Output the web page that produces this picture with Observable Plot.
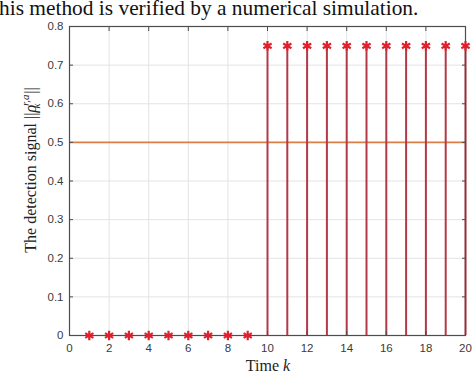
<!DOCTYPE html>
<html>
<head>
<meta charset="utf-8">
<script src="https://cdn.jsdelivr.net/npm/d3@7"></script>
<script src="https://cdn.jsdelivr.net/npm/@observablehq/plot@0.6"></script>
<style>
  html, body { margin: 0; padding: 0; background: #fff; }
  #wrap { position: relative; width: 474px; height: 375px; overflow: hidden; }
  #caption { position: absolute; left: -1px; top: -4px; font-family: "Liberation Serif", "Times New Roman", serif; font-size: 21.4px; line-height: 24px; color: #111; white-space: nowrap; z-index: 2; }
  #chart { position: absolute; left: 0; top: 0; }
</style>
</head>
<body>
<div id="wrap">
  <div id="caption">his method is verified by a numerical simulation.</div>
  <div id="chart"></div>
</div>
<script>
const timeSteps = [1,2,3,4,5,6,7,8,9,10,11,12,13,14,15,16,17,18,19,20];
const signalValues = [0,0,0,0,0,0,0,0,0,0.75,0.75,0.75,0.75,0.75,0.75,0.75,0.75,0.75,0.75,0.75];
const threshold = 0.5;
const xTicks = [0,2,4,6,8,10,12,14,16,18,20];
const yTicks = [0,0.1,0.2,0.3,0.4,0.5,0.6,0.7,0.8];

const data = timeSteps.map((k, i) => ({k, v: signalValues[i]}));
const blank = () => "";

const plot = Plot.plot({
  width: 474,
  height: 375,
  marginTop: 26,
  marginBottom: 40,
  marginLeft: 69,
  marginRight: 9,
  style: {fontFamily: "'Liberation Sans', Arial, sans-serif", fontSize: "11.5px", color: "#3a3a3a", background: "white"},
  x: {type: "linear", domain: [0, 20], ticks: xTicks, label: null},
  y: {type: "linear", domain: [0, 0.8], ticks: yTicks, label: null},
  marks: [
    Plot.ruleX(xTicks, {stroke: "#e3e3e3", strokeWidth: 1}),
    Plot.ruleY(yTicks, {stroke: "#e3e3e3", strokeWidth: 1}),
    Plot.ruleY([threshold], {stroke: "#dd7e45", strokeWidth: 1.6}),
    Plot.ruleX(data, {x: "k", y1: 0, y2: "v", stroke: "#b23a48", strokeWidth: 2}),
    Plot.frame({stroke: "#4d4d4d", strokeWidth: 1.2}),
    Plot.axisX({ticks: xTicks, tickSize: 0, tickPadding: 8, tickFormat: d => String(d)}),
    Plot.axisY({ticks: yTicks, tickSize: 0, tickPadding: 6, tickFormat: d => String(d)}),
    Plot.axisX({ticks: xTicks, anchor: "bottom", tickSize: -4, tickPadding: 0, tickFormat: blank, stroke: "#4d4d4d"}),
    Plot.axisX({ticks: xTicks, anchor: "top", tickSize: -4, tickPadding: 0, tickFormat: blank, stroke: "#4d4d4d"}),
    Plot.axisY({ticks: yTicks, anchor: "left", tickSize: -4, tickPadding: 0, tickFormat: blank, stroke: "#4d4d4d"}),
    Plot.axisY({ticks: yTicks, anchor: "right", tickSize: -4, tickPadding: 0, tickFormat: blank, stroke: "#4d4d4d"}),
    Plot.dot(data, {x: "k", y: "v", symbol: "asterisk", r: 4.5, stroke: "#e0202c", strokeWidth: 2.2})
  ]
});

document.getElementById("chart").appendChild(plot);

// axis titles (serif, LaTeX-like)
const svg = d3.select(plot);
const serif = "'Liberation Serif', 'Times New Roman', serif";
svg.append("text")
  .attr("x", 268).attr("y", 371)
  .attr("text-anchor", "middle")
  .attr("font-family", serif).attr("font-size", 16).attr("fill", "#222")
  .call(t => {
    t.append("tspan").text("Time ");
    t.append("tspan").attr("font-style", "italic").text("k");
  });

const yl = svg.append("text")
  .attr("transform", "translate(36,170) rotate(-90)")
  .attr("text-anchor", "middle")
  .attr("font-family", serif).attr("font-size", 16).attr("fill", "#222");
yl.append("tspan").text("The detection signal ||");
yl.append("tspan").attr("font-style", "italic").text("ρ");
yl.append("tspan").attr("font-size", 11).attr("font-style", "italic").attr("dy", -7).attr("dx", -1).text("r,a");
yl.append("tspan").attr("font-size", 11).attr("font-style", "italic").attr("dy", 11).attr("dx", -14).text("k");
yl.append("tspan").attr("dy", -4).attr("dx", 10).text("||");
</script>
</body>
</html>
